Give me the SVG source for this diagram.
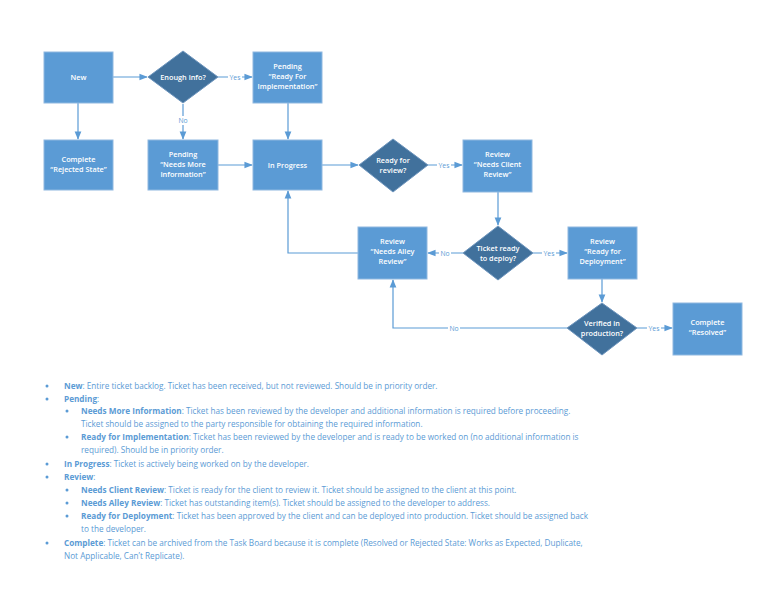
<svg xmlns="http://www.w3.org/2000/svg" width="768" height="594" viewBox="0 0 768 594">
<style>
.b{fill:#5B9BD5;stroke:#8FB8E0;stroke-width:1}
.d{fill:#41719C;stroke:#6E95BD;stroke-width:1}
.t{font-family:"Open Sans","Liberation Sans",sans-serif;font-size:7.3px;fill:#fff;text-anchor:middle;font-weight:600}
.c{stroke:#5B9BD5;stroke-width:1.2;fill:none;marker-end:url(#a)}
.l{font-family:"Open Sans","Liberation Sans",sans-serif;font-size:6.8px;fill:#5B9BD5;text-anchor:middle}
.x{font-family:"Open Sans","Liberation Sans",sans-serif;font-size:8.2px;fill:#5B9BD5}
.x tspan.k{font-weight:bold}
</style>
<defs><marker id="a" viewBox="0 0 10 10" refX="9" refY="5" markerWidth="7" markerHeight="7" orient="auto"><path d="M0,1 L10,5 L0,9z" fill="#5B9BD5"/></marker></defs>
<rect width="768" height="594" fill="#fff"/>
<g id="connectors">
<path class="c" d="M113,77 H147"/>
<path class="c" d="M218,77 H252"/>
<rect x="228" y="72" width="14" height="9" fill="#fff"/><text class="l" x="235" y="79.5">Yes</text>
<path class="c" d="M78,103 V139"/>
<path class="c" d="M183,104 V139"/>
<rect x="176" y="116" width="14" height="9" fill="#fff"/><text class="l" x="183" y="123">No</text>
<path class="c" d="M288,103 V139"/>
<path class="c" d="M218,165 H252"/>
<path class="c" d="M322,165 H358"/>
<path class="c" d="M428,165 H462"/>
<rect x="437" y="160" width="14" height="9" fill="#fff"/><text class="l" x="444" y="167.5">Yes</text>
<path class="c" d="M498,192 V225"/>
<path class="c" d="M463,253 H428"/>
<rect x="439" y="248" width="12" height="9" fill="#fff"/><text class="l" x="445" y="255.5">No</text>
<path class="c" d="M533,253 H567"/>
<rect x="542" y="248" width="14" height="9" fill="#fff"/><text class="l" x="549" y="255.5">Yes</text>
<path class="c" d="M358,253 H288 V191"/>
<path class="c" d="M602,279 V302"/>
<path class="c" d="M637,328 H672"/>
<rect x="647" y="323" width="14" height="9" fill="#fff"/><text class="l" x="654" y="330.5">Yes</text>
<path class="c" d="M567,328 H393 V280"/>
<rect x="448" y="324" width="12" height="8" fill="#fff"/><text class="l" x="454" y="330.5">No</text>
</g>
<g id="new"><rect class="b" x="44" y="52" width="69" height="51"/><text class="t" x="78.5" y="80">New</text></g>
<g id="rejected"><rect class="b" x="44" y="140" width="69" height="50"/><text class="t" x="78.5" y="162">Complete</text><text class="t" x="78.5" y="172">“Rejected State”</text></g>
<g id="enough"><path class="d" d="M183,51 L218,77 L183,103 L148,77z"/><text class="t" x="183" y="80">Enough info?</text></g>
<g id="readyimpl"><rect class="b" x="253" y="52" width="69" height="51"/><text class="t" x="287.5" y="69">Pending</text><text class="t" x="287.5" y="79">“Ready For</text><text class="t" x="287.5" y="89">Implementation”</text></g>
<g id="needsmore"><rect class="b" x="148" y="140" width="70" height="50"/><text class="t" x="183" y="157">Pending</text><text class="t" x="183" y="167">“Needs More</text><text class="t" x="183" y="177">Information”</text></g>
<g id="inprogress"><rect class="b" x="253" y="140" width="69" height="50"/><text class="t" x="287.5" y="168">In Progress</text></g>
<g id="readyreview"><path class="d" d="M393,139 L428,165 L393,192 L359,165z"/><text class="t" x="393" y="163">Ready for</text><text class="t" x="393" y="173">review?</text></g>
<g id="clientreview"><rect class="b" x="463" y="140" width="69" height="52"/><text class="t" x="497.5" y="157">Review</text><text class="t" x="497.5" y="167">“Needs Client</text><text class="t" x="497.5" y="177">Review”</text></g>
<g id="ticketready"><path class="d" d="M498,226 L533,253 L498,280 L463,253z"/><text class="t" x="498" y="251">Ticket ready</text><text class="t" x="498" y="261">to deploy?</text></g>
<g id="alleyreview"><rect class="b" x="358" y="227" width="69" height="52"/><text class="t" x="392.5" y="244">Review</text><text class="t" x="392.5" y="254">“Needs Alley</text><text class="t" x="392.5" y="264">Review”</text></g>
<g id="deployment"><rect class="b" x="568" y="227" width="69" height="52"/><text class="t" x="602.5" y="244">Review</text><text class="t" x="602.5" y="254">“Ready for</text><text class="t" x="602.5" y="264">Deployment”</text></g>
<g id="verified"><path class="d" d="M602,303 L637,328 L602,355 L567,328z"/><text class="t" x="602" y="326">Verified in</text><text class="t" x="602" y="336">production?</text></g>
<g id="resolved"><rect class="b" x="673" y="303" width="69" height="52"/><text class="t" x="707.5" y="325">Complete</text><text class="t" x="707.5" y="335">“Resolved”</text></g>
<g id="legend" fill="#5B9BD5">
<circle cx="47" cy="386" r="1.5"/><circle cx="47" cy="399" r="1.5"/><circle cx="67" cy="411" r="1.5"/><circle cx="67" cy="437" r="1.5"/><circle cx="47" cy="464" r="1.5"/><circle cx="47" cy="477" r="1.5"/><circle cx="67" cy="490" r="1.5"/><circle cx="67" cy="503" r="1.5"/><circle cx="67" cy="516" r="1.5"/><circle cx="47" cy="543" r="1.5"/>
<text class="x" x="64" y="389"><tspan class="k">New</tspan>: Entire ticket backlog. Ticket has been received, but not reviewed. Should be in priority order.</text>
<text class="x" x="64" y="402"><tspan class="k">Pending</tspan>:</text>
<text class="x" x="81" y="414"><tspan class="k">Needs More Information</tspan>: Ticket has been reviewed by the developer and additional information is required before proceeding.</text>
<text class="x" x="81" y="427">Ticket should be assigned to the party responsible for obtaining the required information.</text>
<text class="x" x="81" y="440"><tspan class="k">Ready for Implementation</tspan>: Ticket has been reviewed by the developer and is ready to be worked on (no additional information is</text>
<text class="x" x="81" y="453">required). Should be in priority order.</text>
<text class="x" x="64" y="467"><tspan class="k">In Progress</tspan>: Ticket is actively being worked on by the developer.</text>
<text class="x" x="64" y="480"><tspan class="k">Review</tspan>:</text>
<text class="x" x="81" y="493"><tspan class="k">Needs Client Review</tspan>: Ticket is ready for the client to review it. Ticket should be assigned to the client at this point.</text>
<text class="x" x="81" y="506"><tspan class="k">Needs Alley Review</tspan>: Ticket has outstanding item(s). Ticket should be assigned to the developer to address.</text>
<text class="x" x="81" y="519"><tspan class="k">Ready for Deployment</tspan>: Ticket has been approved by the client and can be deployed into production. Ticket should be assigned back</text>
<text class="x" x="81" y="532">to the developer.</text>
<text class="x" x="64" y="546"><tspan class="k">Complete</tspan>: Ticket can be archived from the Task Board because it is complete (Resolved or Rejected State: Works as Expected, Duplicate,</text>
<text class="x" x="64" y="559">Not Applicable, Can’t Replicate).</text>
</g>
</svg>
